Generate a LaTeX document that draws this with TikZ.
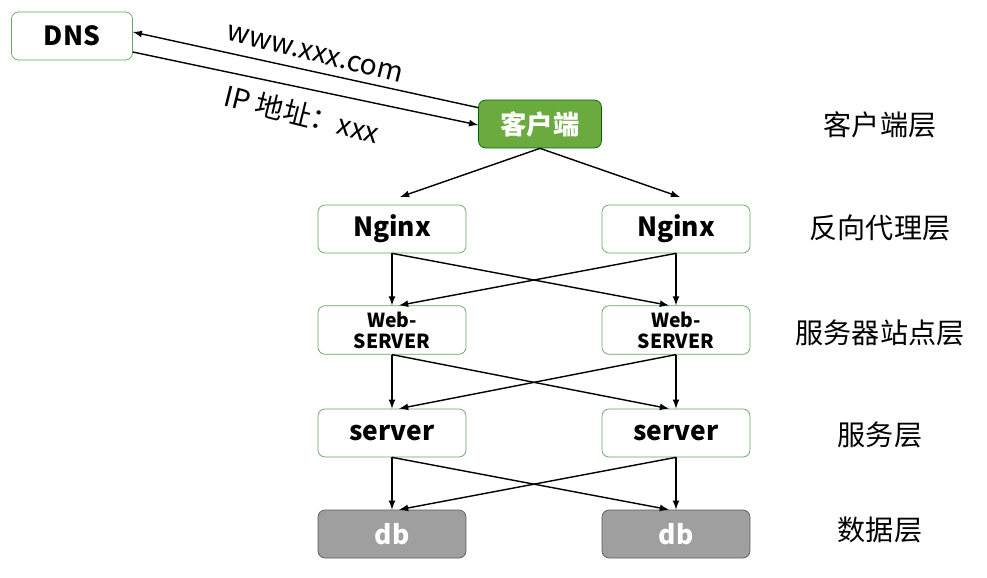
\documentclass[tikz,border=0pt]{standalone}
\usepackage{fontspec}
\setmainfont{Noto Sans CJK SC}
\definecolor{cligreen}{HTML}{6AAA3F}
\begin{document}
\begin{tikzpicture}[x=0.02cm,y=-0.02cm,
  box/.style={draw=green!40!black!60,rounded corners=4pt,fill=white,minimum width=2.96cm,minimum height=0.96cm,font=\fontsize{15}{16}\selectfont\bfseries,align=center},
  dbbox/.style={box,draw=gray!70!black,fill=gray!75,text=white},
  lay/.style={font=\fontsize{16}{17}\selectfont},
  arr/.style={-latex,thick}]
\useasboundingbox (0,0) rectangle (987,578);
\node[box,minimum width=2.42cm] (dns) at (72,36) {DNS};
\node[box,minimum width=2.46cm,fill=cligreen,draw=green!40!black,text=white] (cli) at (540,124) {客户端};
\node[box] (n1) at (392,229) {Nginx};
\node[box] (n2) at (676,229) {Nginx};
\node[box,font=\fontsize{11}{12}\selectfont\bfseries] (w1) at (392,330) {Web-\\SERVER};
\node[box,font=\fontsize{11}{12}\selectfont\bfseries] (w2) at (676,330) {Web-\\SERVER};
\node[box] (s1) at (392,433) {server};
\node[box] (s2) at (676,433) {server};
\node[dbbox] (d1) at (392,534) {db};
\node[dbbox] (d2) at (676,534) {db};
\node[lay] (l1) at (880,125) {客户端层};
\node[lay] (l2) at (880,228) {反向代理层};
\node[lay] (l3) at (880,333) {服务器站点层};
\node[lay] (l4) at (880,435) {服务层};
\node[lay] (l5) at (880,530) {数据层};
\draw[arr] (cli.north west) ++(0,8) coordinate (c1) -- (dns.east |- 0,32) coordinate (e1);
\draw[arr] (dns.east |- 0,52) -- (cli.west |- 0,125);
\node[rotate=-14,font=\fontsize{16}{17}\selectfont] (t1) at (315,54) {www.xxx.com};
\node[rotate=-14,font=\fontsize{16}{17}\selectfont] (t2) at (302,114) {IP 地址：xxx};
\draw[arr] (cli.south) -- (400,197);
\draw[arr] (cli.south) -- (680,197);
\foreach \a/\b in {n/w,w/s,s/d}{
  \draw[arr] (\a1.south) -- (\b1.north);
  \draw[arr] (\a2.south) -- (\b2.north);
  \draw[arr] (\a1.south) -- ([xshift=-4pt]\b2.north);
  \draw[arr] (\a2.south) -- ([xshift=4pt]\b1.north);
}
\end{tikzpicture}
\end{document}
